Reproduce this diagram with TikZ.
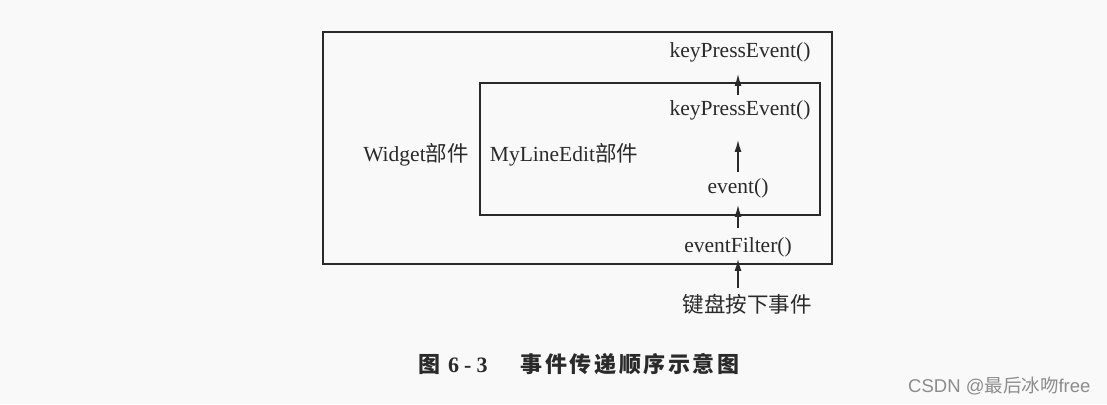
\documentclass[tikz,border=0pt]{standalone}
\usepackage{fontspec}
\setmainfont{Liberation Serif}
\newfontfamily\cjk{Noto Sans CJK SC}
\newfontfamily\cjkcap[LetterSpace=12]{Noto Sans CJK SC}
\newfontfamily\wmfont{Liberation Sans}
\usetikzlibrary{arrows.meta,positioning}
\definecolor{ink}{HTML}{2A2A2A}
\definecolor{paper}{HTML}{F9F9F9}
\tikzset{
mybox/.style={
  draw=ink,
  line width=1.4pt
  },
lbl/.style={
  inner sep=0pt,
  text=ink,
  font=\fontsize{21.5}{24}\selectfont
  },
arr/.style={
  draw=ink,
  line width=1.3pt,
  -{Latex[length=12pt,width=7pt]}
  }
}

\begin{document}
\begin{tikzpicture}[x=1pt,y=-1pt]
\fill[paper] (0,0) rectangle (1107,404);
\useasboundingbox (0,0) rectangle (1107,404);
\draw[mybox] (323,32) rectangle (832,264);
\draw[mybox] (480,83) rectangle (820,215);
\node[lbl] (kp1) at (740,52) {keyPressEvent()};
\node[lbl] (kp2) at (740,110) {keyPressEvent()};
\node[lbl] (ev) at (738,188) {event()};
\node[lbl] (ef) at (738,247) {eventFilter()};
\node[lbl] (key) at (747,304) {\cjk 键盘按下事件};
\node[lbl] (wid) at (416,155) {Widget{\cjk 部件}};
\node[lbl] (edit) at (564,155) {MyLineEdit{\cjk 部件}};
\draw[arr] ([xshift=-2pt,yshift=5pt]kp2.north) -- ([xshift=-2pt,yshift=-12pt]kp1.south);
\draw[arr] ([yshift=6pt]ev.north) -- ([xshift=-2pt,yshift=-20pt]kp2.south);
\draw[arr] ([yshift=9pt]ef.north) -- ([yshift=-7pt]ev.south);
\draw[arr] ([xshift=-9pt,yshift=6pt]key.north) -- ([yshift=-2pt]ef.south);
\node[lbl,anchor=west,font=\fontsize{22}{24}\selectfont\bfseries] (cap) at (418,364)
  {\cjk 图\hspace{8pt}\textbf{\rmfamily 6\hspace{5pt}-\hspace{5pt}3}\hspace{33pt}\cjkcap\bfseries 事件传递顺序示意图};
\node[inner sep=0pt,anchor=west,text=black!45,font=\fontsize{18.5}{20}\selectfont] (mark) at (908,386)
  {\wmfont CSDN @{\cjk 最后冰吻}free};
\end{tikzpicture}
\end{document}
